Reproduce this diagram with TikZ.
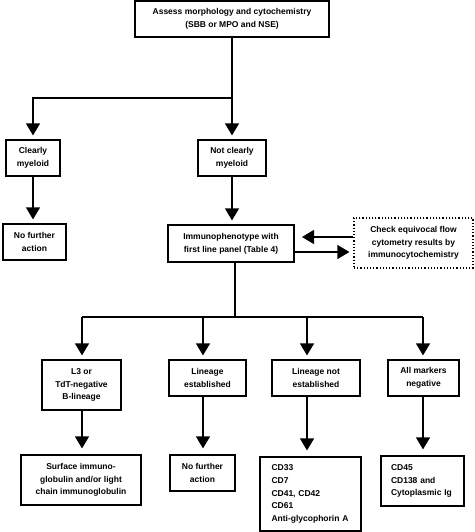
\documentclass[tikz,border=0pt]{standalone}
\usepackage{fontspec}
\setmainfont{Liberation Sans}
\usetikzlibrary{arrows.meta}
\begin{document}
\begin{tikzpicture}[x=1pt,y=-1pt,
  box/.style={draw,line width=1.2pt,rectangle,inner sep=0pt,align=center,
    font=\fontsize{8.5}{12.7}\selectfont\bfseries},
  conn/.style={line width=1.2pt},
  arr/.style={line width=1.2pt,-{Triangle[width=14pt,length=12pt]},shorten >=4pt}]
\useasboundingbox (0,0) rectangle (474,532);
\node[box,minimum width=194pt,minimum height=36pt] (top) at (232,19) {Assess morphology and cytochemistry\\(SBB or MPO and NSE)};
\node[box,minimum width=54pt,minimum height=36pt] (clear) at (33,158) {Clearly\\myeloid};
\node[box,minimum width=68pt,minimum height=36pt] (notclear) at (232,158) {Not clearly\\myeloid};
\node[box,minimum width=63pt,minimum height=36pt] (nfa1) at (34.5,242) {No further\\action};
\node[box,minimum width=126pt,minimum height=37pt] (immuno) at (231,243.5) {Immunophenotype with\\first line panel (Table 4)};
\node[box,dotted,minimum width=119pt,minimum height=50pt] (check) at (413.5,243) {Check equivocal flow\\cytometry results by\\immunocytochemistry};
\node[box,minimum width=79pt,minimum height=50pt] (l3) at (81.5,385) {L3 or\\TdT-negative\\B-lineage};
\node[box,minimum width=77pt,minimum height=36pt] (linest) at (207.5,378) {Lineage\\established};
\node[box,minimum width=88pt,minimum height=36pt] (linnot) at (316,378) {Lineage not\\established};
\node[box,minimum width=71pt,minimum height=36pt] (allneg) at (423.5,378) {All markers\\negative};
\node[box,minimum width=120pt,minimum height=50pt] (surface) at (81,480) {Surface immuno-\\globulin and/or light\\chain immunoglobulin};
\node[box,minimum width=65pt,minimum height=36pt] (nfa2) at (202.5,473) {No further\\action};
\node[box,minimum width=101pt,minimum height=74pt,align=left,text width=78pt] (cd33) at (310.5,494) {CD33\\CD7\\CD41, CD42\\CD61\\Anti-glycophorin A};
\node[box,minimum width=83pt,minimum height=50pt,align=left,text width=63pt] (cd45) at (422.5,481) {CD45\\CD138 and\\\mbox{Cytoplasmic Ig}};
% connectors
\coordinate (j1) at (232,98);
\draw[conn] (top.south) -- (j1);
\draw[arr] (j1) -- (notclear.north);
\draw[arr] (j1) -| (clear.north);
\draw[arr] (clear.south) -- (clear.south |- nfa1.north);
\draw[arr] (notclear.south) -- (notclear.south |- immuno.north);
\coordinate (cin) at (294,237);
\coordinate (cout) at (294,252);
\draw[arr,shorten >=8pt] (check.west |- cin) -- (cin);
\draw[arr] (cout) -- (check.west |- cout);
\coordinate (j2) at (235,317);
\coordinate (b1) at (82,317);
\coordinate (b2) at (203,317);
\coordinate (b3) at (307,317);
\coordinate (b4) at (423,317);
\draw[conn] (immuno.south -| j2) -- (j2);
\draw[conn] (b1) -- (b4);
\draw[arr] (b1) -- (b1 |- l3.north);
\draw[arr] (b2) -- (b2 |- linest.north);
\draw[arr] (b3) -- (b3 |- linnot.north);
\draw[arr] (b4) -- (b4 |- allneg.north);
\draw[arr,shorten >=6pt] (l3.south -| b1) -- (b1 |- surface.north);
\draw[arr,shorten >=6pt] (linest.south -| b2) -- (b2 |- nfa2.north);
\draw[arr,shorten >=6pt] (linnot.south -| b3) -- (b3 |- cd33.north);
\draw[arr,shorten >=6pt] (allneg.south -| b4) -- (b4 |- cd45.north);
\end{tikzpicture}
\end{document}
